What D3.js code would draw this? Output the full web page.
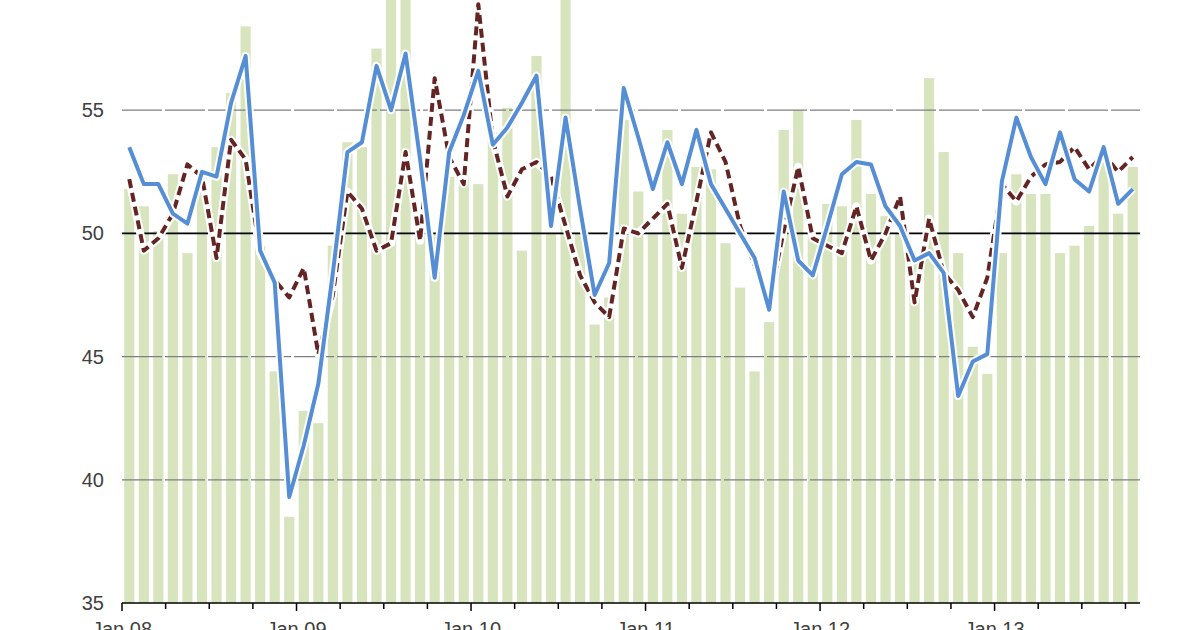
<!DOCTYPE html>
<html>
<head>
<meta charset="utf-8">
<script src="https://cdn.jsdelivr.net/npm/d3@7"></script>
<style>
  body { margin: 0; background: #fff; }
  text { font-family: Arial, "Liberation Sans", sans-serif; }
</style>
</head>
<body>
<svg id="chart" width="1200" height="630"></svg>
<script>
// monthly, Jan 08 .. Oct 13
const bars = [
  51.8, 51.1, 50.1, 52.4, 49.2, 52.6, 53.5, 55.7, 58.4, 49.5, 44.4, 38.5,
  42.8, 42.3, 49.5, 53.7, 53.5, 57.5, 61.0, 61.0, 50.5, 50.0, 52.3, 52.5,
  52.0, 54.1, 55.1, 49.3, 57.2, 50.0, 61.0, 50.0, 46.3, 47.4, 54.6, 51.7,
  50.0, 54.2, 50.8, 52.7, 52.6, 49.6, 47.8, 44.4, 46.4, 54.2, 55.0, 49.9,
  51.2, 51.1, 54.6, 51.6, 50.7, 50.0, 49.0, 56.3, 53.3, 49.2, 45.4, 44.3,
  49.2, 52.4, 51.6, 51.6, 49.2, 49.5, 50.3, 52.9, 50.8, 52.7
];
const blue = [
  53.5, 52.0, 52.0, 50.8, 50.4, 52.5, 52.3, 55.3, 57.2, 49.3, 48.0, 39.3,
  41.4, 43.9, 48.4, 53.3, 53.7, 56.8, 55.0, 57.3, 53.0, 48.2, 53.3, 54.8,
  56.6, 53.6, 54.3, 55.3, 56.4, 50.3, 54.7, 51.0, 47.5, 48.8, 55.9, 53.9,
  51.8, 53.7, 52.0, 54.2, 52.0, 51.0, 50.0, 49.0, 46.9, 51.7, 48.9, 48.3,
  50.3, 52.4, 52.9, 52.8, 51.1, 50.3, 48.9, 49.2, 48.4, 43.4, 44.8, 45.1,
  52.1, 54.7, 53.1, 52.0, 54.1, 52.2, 51.7, 53.5, 51.2, 51.8
];
const brown = [
  52.2, 49.3, 49.8, 50.8, 52.8, 52.3, 49.0, 53.8, 53.0, 49.2, 48.1, 47.4,
  48.6, 45.1, 47.5, 51.7, 51.0, 49.3, 49.6, 53.3, 49.7, 56.3, 53.1, 52.0,
  59.3, 53.8, 51.5, 52.6, 52.9, 52.3, 50.3, 48.3, 47.2, 46.6, 50.2, 50.0,
  50.6, 51.2, 48.6, 51.3, 54.1, 52.9, 50.3, 48.7, 47.2, 50.1, 52.7, 49.8,
  49.5, 49.2, 51.1, 48.9, 50.0, 51.5, 47.2, 50.6, 48.4, 47.7, 46.6, 48.2,
  52.0, 51.3, 52.3, 52.8, 52.9, 53.5, 52.6, 53.2, 52.5, 53.1
];
const yTicks = [35, 40, 45, 50, 55, 60];
const years = ["08", "09", "10", "11", "12", "13"];

const svg = d3.select("#chart");
const mLeft = 122, mRight = 1140, mTop = -13, mBottom = 603;

const months = d3.range(bars.length);
const x = d3.scaleBand().domain(months).range([mLeft, mRight]).paddingInner(0.3).paddingOuter(0.15);
const y = d3.scaleLinear().domain([35, 60]).range([mBottom, mTop]);

const plot = svg.append("g");

plot.selectAll("rect.bar")
  .data(bars)
  .join("rect")
  .attr("class", "bar")
  .attr("x", (d, i) => x(i))
  .attr("width", x.bandwidth())
  .attr("y", (d) => y(d))
  .attr("height", (d) => y(35) - y(d))
  .attr("fill", "#d7e4bd");

// grid
plot.selectAll("line.grid")
  .data(yTicks.filter((t) => t !== 35 && t !== 50))
  .join("line")
  .attr("class", "grid")
  .attr("x1", mLeft).attr("x2", mRight)
  .attr("y1", (d) => y(d)).attr("y2", (d) => y(d))
  .attr("stroke", "#7f7f7f")
  .attr("stroke-width", 1.3)
  .attr("stroke-dasharray", "40,3");

const cx = (i) => x(i) + x.bandwidth() / 2;
const line = d3.line().x((d, i) => cx(i)).y((d) => y(d));

function drawSeries(data, color, dash) {
  plot.append("path").datum(data).attr("d", line)
    .attr("fill", "none").attr("stroke", "#fff").attr("stroke-width", 8)
    .attr("stroke-linejoin", "round");
  plot.append("path").datum(data).attr("d", line)
    .attr("fill", "none").attr("stroke", color).attr("stroke-width", 4)
    .attr("stroke-linejoin", "round")
    .attr("stroke-dasharray", dash);
}

// 50 reference line
plot.append("line")
  .attr("x1", mLeft).attr("x2", mRight)
  .attr("y1", y(50)).attr("y2", y(50))
  .attr("stroke", "#000").attr("stroke-width", 1.6);

drawSeries(brown, "#632523", "9,5");
drawSeries(blue, "#558ed5", null);

// y labels
svg.selectAll("text.ylab")
  .data(yTicks)
  .join("text")
  .attr("class", "ylab")
  .attr("x", 104)
  .attr("y", (d) => y(d) + 7)
  .attr("text-anchor", "end")
  .attr("font-size", 20)
  .attr("fill", "#404040")
  .text((d) => d);

// x axis
const step = (mRight - mLeft) / bars.length;
svg.append("line")
  .attr("x1", mLeft).attr("x2", mRight)
  .attr("y1", mBottom).attr("y2", mBottom)
  .attr("stroke", "#000").attr("stroke-width", 1.5);

svg.selectAll("line.xt")
  .data(d3.range(0, bars.length + 1, 3))
  .join("line")
  .attr("class", "xt")
  .attr("x1", (d) => mLeft + d * step).attr("x2", (d) => mLeft + d * step)
  .attr("y1", mBottom).attr("y2", (d) => mBottom + (d % 12 === 0 ? 8 : 6))
  .attr("stroke", "#000").attr("stroke-width", 1.5);

svg.selectAll("text.xlab")
  .data(years)
  .join("text")
  .attr("class", "xlab")
  .attr("x", (d, i) => mLeft + i * 12 * step)
  .attr("y", 636)
  .attr("text-anchor", "middle")
  .attr("font-size", 20)
  .attr("fill", "#404040")
  .text((d) => "Jan " + d);
</script>
</body>
</html>
